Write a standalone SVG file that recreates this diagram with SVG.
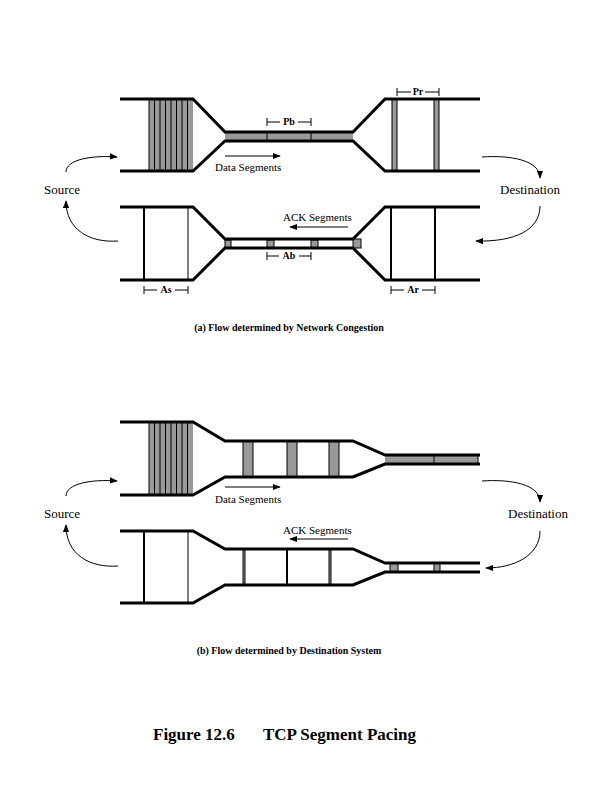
<svg xmlns="http://www.w3.org/2000/svg" width="612" height="792" viewBox="0 0 612 792">
<style>
.p{fill:none;stroke:#000;stroke-width:3}
.t{stroke:#000;stroke-width:1;fill:none}
.tk{stroke:#000;stroke-width:2;fill:none}
.g{fill:#999;stroke:#000;stroke-width:1}
.s{font-family:"Liberation Serif",serif;font-size:11px}
.l{font-family:"Liberation Serif",serif;font-size:13px}
.b{font-family:"Liberation Serif",serif;font-size:10px;font-weight:bold}
.f{font-family:"Liberation Serif",serif;font-size:17px;font-weight:bold}
</style>
<defs>
<marker id="ah" viewBox="0 0 10 10" refX="9" refY="5" markerWidth="8" markerHeight="8" orient="auto" markerUnits="userSpaceOnUse"><path d="M0,1 L10,5 L0,9 z"/></marker>
<g id="stack"><rect x="149" y="0" width="44" height="72" fill="#999"/><path class="t" d="M149,0V72M154.5,0V72M160,0V72M165.5,0V72M171,0V72M176.5,0V72M182,0V72M187.5,0V72"/></g>
</defs>
<g id="pipeA1">
<use href="#stack" y="99"/>
<rect x="225" y="132" width="128" height="9" fill="#999"/>
<path class="t" d="M267,132V141M311,132V141"/>
<rect x="392" y="99" width="5" height="72" class="g"/>
<rect x="434" y="99" width="5" height="72" class="g"/>
<path class="p" d="M120,99H193L225,132H353L385,99H480M120,171H193L225,141H353L385,171H480"/>
</g>
<g id="pipeA2">
<rect x="225" y="240" width="6" height="8" class="g"/>
<rect x="267" y="240" width="7" height="8" class="g"/>
<rect x="311" y="240" width="7" height="8" class="g"/>
<rect x="353" y="239" width="8" height="9" class="g"/>
<path class="tk" d="M144,207V280M391,207V280M435,207V280"/>
<path class="t" d="M188,207V280"/>
<path class="p" d="M120,207H193L225,239H353L385,207H480M120,280H193L225,248H353L385,280H480"/>
</g>
<g id="labelsA">
<path class="t" d="M267,118V126M267,122H280M298,122H311M311,118V126"/><text class="b" x="289" y="125" text-anchor="middle">Pb</text>
<path class="t" d="M397,88V96M397,92H411M425,92H439M439,88V96"/><text class="b" x="418" y="95" text-anchor="middle">Pr</text>
<path class="t" d="M267,252V260M267,256H279M299,256H311M311,252V260"/><text class="b" x="289" y="259" text-anchor="middle">Ab</text>
<path class="t" d="M144,286V294M144,290H157M175,290H188M188,286V294"/><text class="b" x="166" y="293" text-anchor="middle">As</text>
<path class="t" d="M391,286V294M391,290H404M422,290H435M435,286V294"/><text class="b" x="413" y="293" text-anchor="middle">Ar</text>
<text class="s" x="215" y="171">Data Segments</text>
<text class="s" x="283" y="221">ACK Segments</text>
<text class="l" x="44" y="194">Source</text>
<text class="l" x="500" y="194">Destination</text>
<text class="b" x="289" y="331" text-anchor="middle">(a) Flow determined by Network Congestion</text>
</g>
<g id="pipeB1">
<use href="#stack" y="422"/>
<rect x="243" y="441" width="10" height="36" class="g"/>
<rect x="287" y="441" width="10" height="36" class="g"/>
<rect x="329" y="441" width="10" height="36" class="g"/>
<rect x="385" y="455" width="93" height="9" fill="#999"/>
<path class="t" d="M434,455V464M478,455V464"/>
<path class="p" d="M120,422H193L225,441H353L385,455H480M120,495H193L225,477H353L385,464H480"/>
</g>
<g id="pipeB2">
<rect x="390" y="563" width="8" height="9" class="g"/>
<rect x="434" y="563" width="6" height="9" class="g"/>
<rect x="243" y="549" width="2" height="36" class="g"/>
<rect x="329" y="549" width="2" height="36" class="g"/>
<path class="tk" d="M144,531V603M287,549V585"/>
<path class="t" d="M188,531V603"/>
<path class="p" d="M120,531H193L225,549H353L385,563H480M120,603H193L225,585H353L385,572H480"/>
</g>
<g id="labelsB">
<text class="s" x="215" y="503">Data Segments</text>
<text class="s" x="283" y="534">ACK Segments</text>
<text class="l" x="44" y="518">Source</text>
<text class="l" x="508" y="518">Destination</text>
<text class="b" x="289" y="654" text-anchor="middle">(b) Flow determined by Destination System</text>
<text class="f" x="153" y="740">Figure 12.6</text>
<text class="f" x="263" y="740">TCP Segment Pacing</text>
</g>
<g id="connectors">
<path class="t" marker-end="url(#ah)" d="M225,156H280"/>
<path class="t" marker-end="url(#ah)" d="M348,227H290"/>
<path class="t" marker-end="url(#ah)" d="M66,172C66,160 90,155 117,157"/>
<path class="t" marker-end="url(#ah)" d="M118,241C90,243 66,230 66,201"/>
<path class="t" marker-end="url(#ah)" d="M482,157C510,155 540,160 540,178"/>
<path class="t" marker-end="url(#ah)" d="M540,206C540,230 515,242 476,241"/>
<path class="t" marker-end="url(#ah)" d="M225,487H280"/>
<path class="t" marker-end="url(#ah)" d="M348,539H290"/>
<path class="t" marker-end="url(#ah)" d="M66,496C66,484 90,479 117,481"/>
<path class="t" marker-end="url(#ah)" d="M118,566C90,568 66,555 66,525"/>
<path class="t" marker-end="url(#ah)" d="M482,481C510,479 540,484 540,502"/>
<path class="t" marker-end="url(#ah)" d="M540,531C540,555 515,568 486,568"/>
</g>
</svg>
